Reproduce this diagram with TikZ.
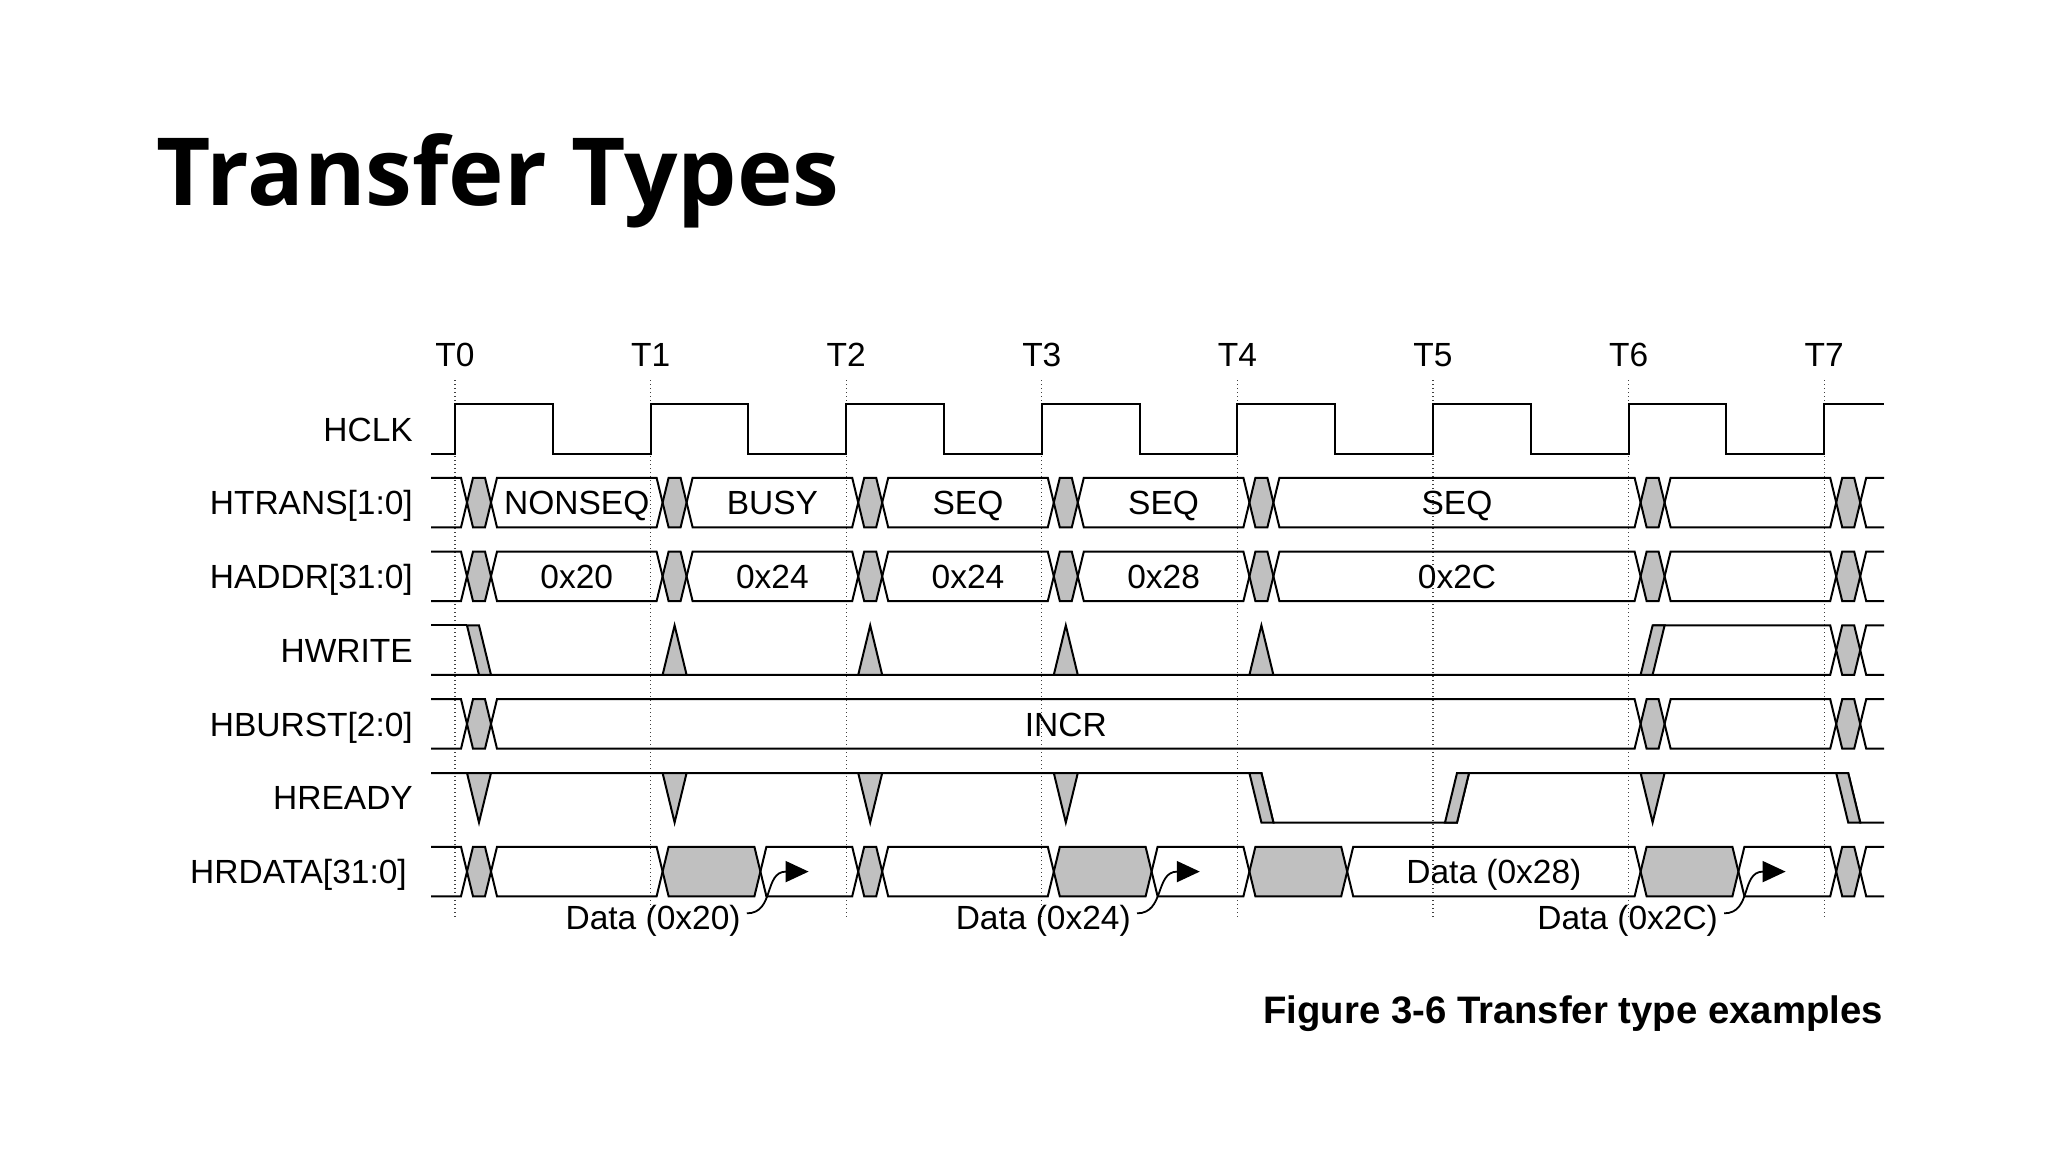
\documentclass[tikz,border=0pt]{standalone}
\usepackage{fontspec}
\setmainfont{Liberation Sans}
\newfontfamily\titlefont{Open Sans}
\usetikzlibrary{arrows.meta}
\definecolor{xgrey}{RGB}{192,192,192}
\pgfmathdeclarefunction{tk}{1}{\pgfmathparse{455+195.6*#1}}
% #1 style, #2 top, #3 bottom, #4 c1, #5 c2
\newcommand{\hexseg}[5][sig]{\draw[#1] ({#4},{(#2+#3)/2}) -- ({#4+6},#2) -- ({#5-6},#2) -- ({#5},{(#2+#3)/2}) -- ({#5-6},#3) -- ({#4+6},#3) -- cycle;}
\newcommand{\openleft}[3]{\draw[sig] (431,#1) -- ({#3-6},#1) -- ({#3},{(#1+#2)/2}) -- ({#3-6},#2) -- (431,#2);}
\newcommand{\openright}[3]{\draw[sig] (1884,#1) -- ({#3+6},#1) -- ({#3},{(#1+#2)/2}) -- ({#3+6},#2) -- (1884,#2);}
\begin{document}
\begin{tikzpicture}[x=1pt,y=-1pt,
  sig/.style={line width=2pt, line join=miter, draw=black},
  inv/.style={sig, fill=xgrey},
  guide/.style={line width=1.3pt, black!75, dash pattern=on 1.3pt off 2.7pt},
  lbl/.style={font=\fontsize{33.5}{40}\selectfont, anchor=base, inner sep=0pt},
  ptr/.style={line width=1.8pt, -{Triangle[length=23pt,width=21pt]}}]
\fill[white] (0,0) rectangle (2048,1152);
\useasboundingbox (0,0) rectangle (2048,1152);

% title and caption
\node[anchor=base west, inner sep=0pt, font=\titlefont\bfseries\fontsize{94}{100}\selectfont] (title) at (156.5,205) {Transfer Types};
\node[anchor=base east, inner sep=0pt, font=\bfseries\fontsize{38.3}{45}\selectfont] (caption) at (1883,1023) {Figure 3-6 Transfer type examples};

% clock guides and labels
\foreach \k in {0,...,7} {
  \draw[guide] ({tk(\k)},380) -- ({tk(\k)},917);
  \node[lbl] (t\k) at ({tk(\k)},366) {T\k};
}

% signal names
\node[lbl, anchor=base east] (nclk) at (413,441) {HCLK};
\node[lbl, anchor=base east] (ntrans) at (413,514.5) {HTRANS[1:0]};
\node[lbl, anchor=base east] (naddr) at (413,588.4) {HADDR[31:0]};
\node[lbl, anchor=base east] (nwrite) at (413,662) {HWRITE};
\node[lbl, anchor=base east] (nburst) at (413,736) {HBURST[2:0]};
\node[lbl, anchor=base east] (nready) at (413,809.8) {HREADY};
\node[lbl, anchor=base east] (nrdata) at (407,883.6) {HRDATA[31:0]};

% HCLK
\draw[sig] (431,453.5) foreach \k in {0,...,6} { -- ({tk(\k)},453.5) -- ({tk(\k)},404) -- ({tk(\k)+97.8},404) -- ({tk(\k)+97.8},453.5) } -- ({tk(7)},453.5) -- ({tk(7)},404) -- (1884,404);

% HTRANS
\openleft{477.8}{527.3}{tk(0)+12}
\foreach \k in {0,1,2,3,4,6,7} {\hexseg[inv]{477.8}{527.3}{tk(\k)+12}{tk(\k)+36}}
\hexseg{477.8}{527.3}{tk(0)+36}{tk(1)+12}
\hexseg{477.8}{527.3}{tk(1)+36}{tk(2)+12}
\hexseg{477.8}{527.3}{tk(2)+36}{tk(3)+12}
\hexseg{477.8}{527.3}{tk(3)+36}{tk(4)+12}
\hexseg{477.8}{527.3}{tk(4)+36}{tk(6)+12}
\hexseg{477.8}{527.3}{tk(6)+36}{tk(7)+12}
\openright{477.8}{527.3}{tk(7)+36}
\node[lbl] (tr1) at ({(tk(0)+tk(1)+48)/2},514.5) {NONSEQ};
\node[lbl] (tr2) at ({(tk(1)+tk(2)+48)/2},514.5) {BUSY};
\node[lbl] (tr3) at ({(tk(2)+tk(3)+48)/2},514.5) {SEQ};
\node[lbl] (tr4) at ({(tk(3)+tk(4)+48)/2},514.5) {SEQ};
\node[lbl] (tr5) at ({(tk(4)+tk(6)+48)/2},514.5) {SEQ};

% HADDR
\openleft{551.6}{601.1}{tk(0)+12}
\foreach \k in {0,1,2,3,4,6,7} {\hexseg[inv]{551.6}{601.1}{tk(\k)+12}{tk(\k)+36}}
\hexseg{551.6}{601.1}{tk(0)+36}{tk(1)+12}
\hexseg{551.6}{601.1}{tk(1)+36}{tk(2)+12}
\hexseg{551.6}{601.1}{tk(2)+36}{tk(3)+12}
\hexseg{551.6}{601.1}{tk(3)+36}{tk(4)+12}
\hexseg{551.6}{601.1}{tk(4)+36}{tk(6)+12}
\hexseg{551.6}{601.1}{tk(6)+36}{tk(7)+12}
\openright{551.6}{601.1}{tk(7)+36}
\node[lbl] (ad1) at ({(tk(0)+tk(1)+48)/2},588.4) {0x20};
\node[lbl] (ad2) at ({(tk(1)+tk(2)+48)/2},588.4) {0x24};
\node[lbl] (ad3) at ({(tk(2)+tk(3)+48)/2},588.4) {0x24};
\node[lbl] (ad4) at ({(tk(3)+tk(4)+48)/2},588.4) {0x28};
\node[lbl] (ad5) at ({(tk(4)+tk(6)+48)/2},588.4) {0x2C};

% HWRITE
\draw[sig] (431,625.4) -- ({tk(0)+12},625.4);
\draw[sig] ({tk(6)+24},625.4) -- ({tk(7)+6},625.4) -- ({tk(7)+12},650.15) -- ({tk(7)+6},674.9) -- (431,674.9);
\draw[inv] ({tk(0)+12},625.4) -- ({tk(0)+24},625.4) -- ({tk(0)+36},674.9) -- ({tk(0)+24},674.9) -- cycle;
\foreach \k in {1,2,3,4} {\draw[inv] ({tk(\k)+12},674.9) -- ({tk(\k)+24},625.4) -- ({tk(\k)+36},674.9) -- cycle;}
\draw[inv] ({tk(6)+12},674.9) -- ({tk(6)+24},674.9) -- ({tk(6)+36},625.4) -- ({tk(6)+24},625.4) -- cycle;
\hexseg[inv]{625.4}{674.9}{tk(7)+12}{tk(7)+36}
\openright{625.4}{674.9}{tk(7)+36}

% HBURST
\openleft{699.2}{748.7}{tk(0)+12}
\foreach \k in {0,6,7} {\hexseg[inv]{699.2}{748.7}{tk(\k)+12}{tk(\k)+36}}
\hexseg{699.2}{748.7}{tk(0)+36}{tk(6)+12}
\hexseg{699.2}{748.7}{tk(6)+36}{tk(7)+12}
\openright{699.2}{748.7}{tk(7)+36}
\node[lbl] (incr) at ({(tk(0)+tk(6)+48)/2},736) {INCR};

% HREADY
\draw[sig] (431,773) -- ({tk(4)+24},773) -- ({tk(4)+36},822.5) -- ({tk(5)+24},822.5) -- ({tk(5)+36},773) -- ({tk(7)+24},773) -- ({tk(7)+36},822.5) -- (1884,822.5);
\foreach \k in {0,1,2,3,6} {\draw[inv] ({tk(\k)+12},773) -- ({tk(\k)+24},822.5) -- ({tk(\k)+36},773) -- cycle;}
\draw[inv] ({tk(4)+12},773) -- ({tk(4)+24},773) -- ({tk(4)+36},822.5) -- ({tk(4)+24},822.5) -- cycle;
\draw[inv] ({tk(5)+12},822.5) -- ({tk(5)+24},822.5) -- ({tk(5)+36},773) -- ({tk(5)+24},773) -- cycle;
\draw[inv] ({tk(7)+12},773) -- ({tk(7)+24},773) -- ({tk(7)+36},822.5) -- ({tk(7)+24},822.5) -- cycle;

% HRDATA
\openleft{846.8}{896.3}{tk(0)+12}
\foreach \k in {0,2,7} {\hexseg[inv]{846.8}{896.3}{tk(\k)+12}{tk(\k)+36}}
\foreach \k in {1,3,4,6} {\hexseg[inv]{846.8}{896.3}{tk(\k)+12}{tk(\k)+109.8}}
\hexseg{846.8}{896.3}{tk(0)+36}{tk(1)+12}
\hexseg{846.8}{896.3}{tk(1)+109.8}{tk(2)+12}
\hexseg{846.8}{896.3}{tk(2)+36}{tk(3)+12}
\hexseg{846.8}{896.3}{tk(3)+109.8}{tk(4)+12}
\hexseg{846.8}{896.3}{tk(4)+109.8}{tk(6)+12}
\hexseg{846.8}{896.3}{tk(6)+109.8}{tk(7)+12}
\openright{846.8}{896.3}{tk(7)+36}
\node[lbl] (d28) at ({(tk(4)+tk(6)+121.8)/2},883.6) {Data (0x28)};

% data labels and pointers
\node[lbl] (d20) at ({tk(1)+2.5},929) {Data (0x20)};
\node[lbl] (d24) at ({tk(3)+1.5},929) {Data (0x24)};
\node[lbl] (d2c) at ({tk(6)-1},929) {Data (0x2C)};
\coordinate (p20) at ({tk(1)+158},871.6);
\coordinate (p24) at ({tk(3)+158},871.6);
\coordinate (p2c) at ({tk(6)+157},871.6);
\draw[ptr] ([xshift=6pt,yshift=7pt]d20.east) .. controls +(28,0) and +(-45,0) .. (p20);
\draw[ptr] ([xshift=6pt,yshift=7pt]d24.east) .. controls +(28,0) and +(-45,0) .. (p24);
\draw[ptr] ([xshift=6pt,yshift=7pt]d2c.east) .. controls +(28,0) and +(-45,0) .. (p2c);
\end{tikzpicture}
\end{document}
